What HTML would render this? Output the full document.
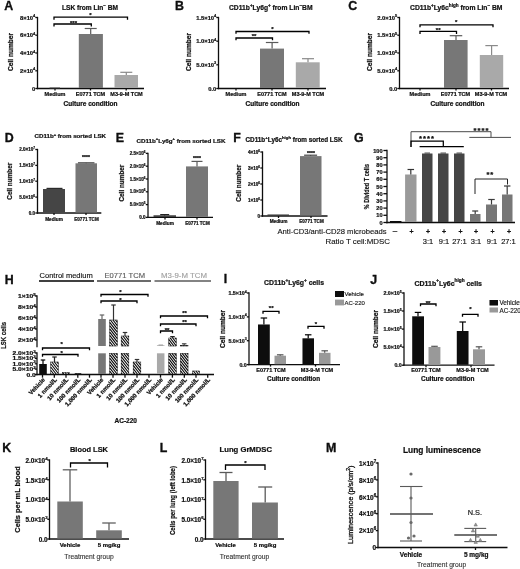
<!DOCTYPE html>
<html><head><meta charset="utf-8"><title>Figure</title>
<style>
html,body{margin:0;padding:0;background:#fff;}
body{width:520px;height:569px;overflow:hidden;font-family:'Liberation Sans', sans-serif;}
svg{display:block;font-family:'Liberation Sans', sans-serif;}

</style></head><body>
<svg width="520" height="569" viewBox="0 0 520 569">
<rect width="520" height="569" fill="#fff"/>
<g filter="url(#bl)">
<text x="4.2" y="9.6" font-size="12.4" font-weight="bold" stroke="#0a0a0a" stroke-width="0.3" fill="#0a0a0a">A</text>
<text x="62.00" y="10.07" font-size="6.58" font-weight="bold" stroke="#111" stroke-width="0.22" fill="#111" textLength="56.00" lengthAdjust="spacingAndGlyphs">LSK from Lin<tspan font-size="4.47" dy="-2.90">−</tspan><tspan dy="2.90"> BM</tspan></text>
<line x1="37.50" y1="16.85" x2="37.50" y2="89.15" stroke="#111" stroke-width="1.3" stroke-linecap="butt"/>
<line x1="35.30" y1="17.50" x2="37.50" y2="17.50" stroke="#111" stroke-width="1.3" stroke-linecap="butt"/>
<text x="35.30" y="19.59" font-size="5.8" font-weight="bold" stroke="#111" stroke-width="0.22" text-anchor="end" fill="#111">8×10<tspan font-size="3.94" dy="-2.55">4</tspan></text>
<line x1="35.30" y1="35.20" x2="37.50" y2="35.20" stroke="#111" stroke-width="1.3" stroke-linecap="butt"/>
<text x="35.30" y="37.29" font-size="5.8" font-weight="bold" stroke="#111" stroke-width="0.22" text-anchor="end" fill="#111">6×10<tspan font-size="3.94" dy="-2.55">4</tspan></text>
<line x1="35.30" y1="53.00" x2="37.50" y2="53.00" stroke="#111" stroke-width="1.3" stroke-linecap="butt"/>
<text x="35.30" y="55.09" font-size="5.8" font-weight="bold" stroke="#111" stroke-width="0.22" text-anchor="end" fill="#111">4×10<tspan font-size="3.94" dy="-2.55">4</tspan></text>
<line x1="35.30" y1="70.80" x2="37.50" y2="70.80" stroke="#111" stroke-width="1.3" stroke-linecap="butt"/>
<text x="35.30" y="72.89" font-size="5.8" font-weight="bold" stroke="#111" stroke-width="0.22" text-anchor="end" fill="#111">2×10<tspan font-size="3.94" dy="-2.55">4</tspan></text>
<line x1="35.30" y1="88.50" x2="37.50" y2="88.50" stroke="#111" stroke-width="1.3" stroke-linecap="butt"/>
<text x="35.30" y="90.59" font-size="5.8" font-weight="bold" stroke="#111" stroke-width="0.22" text-anchor="end" fill="#111">0</text>
<line x1="36.85" y1="88.50" x2="144.00" y2="88.50" stroke="#111" stroke-width="1.3" stroke-linecap="butt"/>
<line x1="55.00" y1="88.50" x2="55.00" y2="90.50" stroke="#111" stroke-width="1.3" stroke-linecap="butt"/>
<line x1="90.50" y1="88.50" x2="90.50" y2="90.50" stroke="#111" stroke-width="1.3" stroke-linecap="butt"/>
<line x1="126.20" y1="88.50" x2="126.20" y2="90.50" stroke="#111" stroke-width="1.3" stroke-linecap="butt"/>
<text transform="translate(10.50 52.00) rotate(-90)" x="0" y="2.38" font-size="6.6" font-weight="bold" stroke="#111" stroke-width="0.22" text-anchor="middle" fill="#111">Cell number</text>
<line x1="49.50" y1="87.90" x2="60.00" y2="87.90" stroke="#454545" stroke-width="0.8" stroke-linecap="butt"/>
<rect x="78.80" y="34.00" width="24.10" height="54.00" fill="#777777"/>
<line x1="90.70" y1="28.50" x2="90.70" y2="34.00" stroke="#5a5a5a" stroke-width="1.2" stroke-linecap="butt"/>
<line x1="84.70" y1="28.50" x2="96.70" y2="28.50" stroke="#5a5a5a" stroke-width="1.2" stroke-linecap="butt"/>
<rect x="114.50" y="75.00" width="23.50" height="13.00" fill="#a9a9a9"/>
<line x1="126.30" y1="72.30" x2="126.30" y2="75.00" stroke="#8a8a8a" stroke-width="1.2" stroke-linecap="butt"/>
<line x1="120.30" y1="72.30" x2="132.30" y2="72.30" stroke="#8a8a8a" stroke-width="1.2" stroke-linecap="butt"/>
<path d="M54.00 19.70V17.20H127.50V19.70" fill="none" stroke="#000" stroke-width="1.3"/>
<text x="90.50" y="16.50" font-size="6.0" font-weight="bold" stroke="#111" stroke-width="0.25" text-anchor="middle" letter-spacing="0" fill="#111">*</text>
<path d="M54.00 26.50V24.00H91.30V26.50" fill="none" stroke="#000" stroke-width="1.3"/>
<text x="73.50" y="24.70" font-size="6.0" font-weight="bold" stroke="#111" stroke-width="0.25" text-anchor="middle" letter-spacing="0" fill="#111">***</text>
<text x="55.00" y="96.18" font-size="5.5" font-weight="bold" stroke="#111" stroke-width="0.22" text-anchor="middle" fill="#111">Medium</text>
<text x="90.50" y="96.18" font-size="5.5" font-weight="bold" stroke="#111" stroke-width="0.22" text-anchor="middle" fill="#111">E0771 TCM</text>
<text x="126.50" y="96.18" font-size="5.5" font-weight="bold" stroke="#111" stroke-width="0.22" text-anchor="middle" fill="#111">M3-9-M TCM</text>
<text x="90.50" y="105.54" font-size="6.5" font-weight="bold" stroke="#111" stroke-width="0.22" text-anchor="middle" fill="#111">Culture condition</text>
<text x="175" y="9.6" font-size="12.4" font-weight="bold" stroke="#0a0a0a" stroke-width="0.3" fill="#0a0a0a">B</text>
<text x="229.00" y="10.12" font-size="6.72" font-weight="bold" stroke="#111" stroke-width="0.22" fill="#111" textLength="83.50" lengthAdjust="spacingAndGlyphs">CD11b<tspan font-size="4.57" dy="-2.96">+</tspan><tspan dy="2.96">Ly6g</tspan><tspan font-size="4.57" dy="-2.96">+</tspan><tspan dy="2.96"> from Lin</tspan><tspan font-size="4.57" dy="-2.96">−</tspan><tspan dy="2.96">BM</tspan></text>
<line x1="218.50" y1="16.85" x2="218.50" y2="89.15" stroke="#111" stroke-width="1.3" stroke-linecap="butt"/>
<line x1="216.30" y1="17.50" x2="218.50" y2="17.50" stroke="#111" stroke-width="1.3" stroke-linecap="butt"/>
<text x="216.30" y="19.59" font-size="5.8" font-weight="bold" stroke="#111" stroke-width="0.22" text-anchor="end" fill="#111">1.5×10<tspan font-size="3.94" dy="-2.55">4</tspan></text>
<line x1="216.30" y1="41.20" x2="218.50" y2="41.20" stroke="#111" stroke-width="1.3" stroke-linecap="butt"/>
<text x="216.30" y="43.29" font-size="5.8" font-weight="bold" stroke="#111" stroke-width="0.22" text-anchor="end" fill="#111">1.0×10<tspan font-size="3.94" dy="-2.55">4</tspan></text>
<line x1="216.30" y1="64.80" x2="218.50" y2="64.80" stroke="#111" stroke-width="1.3" stroke-linecap="butt"/>
<text x="216.30" y="66.89" font-size="5.8" font-weight="bold" stroke="#111" stroke-width="0.22" text-anchor="end" fill="#111">5.0×10<tspan font-size="3.94" dy="-2.55">3</tspan></text>
<line x1="216.30" y1="88.50" x2="218.50" y2="88.50" stroke="#111" stroke-width="1.3" stroke-linecap="butt"/>
<text x="216.30" y="90.59" font-size="5.8" font-weight="bold" stroke="#111" stroke-width="0.22" text-anchor="end" fill="#111">0.0</text>
<line x1="217.85" y1="88.50" x2="326.00" y2="88.50" stroke="#111" stroke-width="1.3" stroke-linecap="butt"/>
<line x1="236.00" y1="88.50" x2="236.00" y2="90.50" stroke="#111" stroke-width="1.3" stroke-linecap="butt"/>
<line x1="272.00" y1="88.50" x2="272.00" y2="90.50" stroke="#111" stroke-width="1.3" stroke-linecap="butt"/>
<line x1="308.00" y1="88.50" x2="308.00" y2="90.50" stroke="#111" stroke-width="1.3" stroke-linecap="butt"/>
<text transform="translate(188.50 52.00) rotate(-90)" x="0" y="2.38" font-size="6.6" font-weight="bold" stroke="#111" stroke-width="0.22" text-anchor="middle" fill="#111">Cell number</text>
<rect x="260.00" y="48.60" width="24.00" height="39.40" fill="#777777"/>
<line x1="272.10" y1="42.50" x2="272.10" y2="48.60" stroke="#5a5a5a" stroke-width="1.2" stroke-linecap="butt"/>
<line x1="265.85" y1="42.50" x2="278.35" y2="42.50" stroke="#5a5a5a" stroke-width="1.2" stroke-linecap="butt"/>
<rect x="295.80" y="62.30" width="23.90" height="25.70" fill="#a9a9a9"/>
<line x1="308.00" y1="58.70" x2="308.00" y2="62.30" stroke="#8a8a8a" stroke-width="1.2" stroke-linecap="butt"/>
<line x1="302.00" y1="58.70" x2="314.00" y2="58.70" stroke="#8a8a8a" stroke-width="1.2" stroke-linecap="butt"/>
<path d="M236.00 33.70V31.50H309.00V33.70" fill="none" stroke="#000" stroke-width="1.3"/>
<text x="272.50" y="30.80" font-size="6.0" font-weight="bold" stroke="#111" stroke-width="0.25" text-anchor="middle" letter-spacing="0" fill="#111">*</text>
<path d="M236.00 40.20V38.00H272.50V40.20" fill="none" stroke="#000" stroke-width="1.3"/>
<text x="254.00" y="38.10" font-size="6.0" font-weight="bold" stroke="#111" stroke-width="0.25" text-anchor="middle" letter-spacing="0" fill="#111">**</text>
<text x="236.00" y="95.78" font-size="5.5" font-weight="bold" stroke="#111" stroke-width="0.22" text-anchor="middle" fill="#111">Medium</text>
<text x="272.00" y="95.78" font-size="5.5" font-weight="bold" stroke="#111" stroke-width="0.22" text-anchor="middle" fill="#111">E0771 TCM</text>
<text x="308.00" y="95.78" font-size="5.5" font-weight="bold" stroke="#111" stroke-width="0.22" text-anchor="middle" fill="#111">M3-9-M TCM</text>
<text x="272.50" y="105.54" font-size="6.5" font-weight="bold" stroke="#111" stroke-width="0.22" text-anchor="middle" fill="#111">Culture condition</text>
<text x="348.2" y="9.6" font-size="12.4" font-weight="bold" stroke="#0a0a0a" stroke-width="0.3" fill="#0a0a0a">C</text>
<text x="410.00" y="10.13" font-size="6.75" font-weight="bold" stroke="#111" stroke-width="0.22" fill="#111" textLength="92.50" lengthAdjust="spacingAndGlyphs">CD11b<tspan font-size="4.59" dy="-2.97">+</tspan><tspan dy="2.97">Ly6c</tspan><tspan font-size="4.59" dy="-2.97">high</tspan><tspan dy="2.97"> from Lin</tspan><tspan font-size="4.59" dy="-2.97">−</tspan><tspan dy="2.97"> BM</tspan></text>
<line x1="399.50" y1="16.85" x2="399.50" y2="89.15" stroke="#111" stroke-width="1.3" stroke-linecap="butt"/>
<line x1="397.30" y1="17.50" x2="399.50" y2="17.50" stroke="#111" stroke-width="1.3" stroke-linecap="butt"/>
<text x="397.30" y="19.59" font-size="5.8" font-weight="bold" stroke="#111" stroke-width="0.22" text-anchor="end" fill="#111">2.0×10<tspan font-size="3.94" dy="-2.55">5</tspan></text>
<line x1="397.30" y1="35.20" x2="399.50" y2="35.20" stroke="#111" stroke-width="1.3" stroke-linecap="butt"/>
<text x="397.30" y="37.29" font-size="5.8" font-weight="bold" stroke="#111" stroke-width="0.22" text-anchor="end" fill="#111">1.5×10<tspan font-size="3.94" dy="-2.55">5</tspan></text>
<line x1="397.30" y1="53.00" x2="399.50" y2="53.00" stroke="#111" stroke-width="1.3" stroke-linecap="butt"/>
<text x="397.30" y="55.09" font-size="5.8" font-weight="bold" stroke="#111" stroke-width="0.22" text-anchor="end" fill="#111">1.0×10<tspan font-size="3.94" dy="-2.55">5</tspan></text>
<line x1="397.30" y1="70.80" x2="399.50" y2="70.80" stroke="#111" stroke-width="1.3" stroke-linecap="butt"/>
<text x="397.30" y="72.89" font-size="5.8" font-weight="bold" stroke="#111" stroke-width="0.22" text-anchor="end" fill="#111">5.0×10<tspan font-size="3.94" dy="-2.55">4</tspan></text>
<line x1="397.30" y1="88.50" x2="399.50" y2="88.50" stroke="#111" stroke-width="1.3" stroke-linecap="butt"/>
<text x="397.30" y="90.59" font-size="5.8" font-weight="bold" stroke="#111" stroke-width="0.22" text-anchor="end" fill="#111">0.0</text>
<line x1="398.85" y1="88.50" x2="509.00" y2="88.50" stroke="#111" stroke-width="1.3" stroke-linecap="butt"/>
<line x1="420.00" y1="88.50" x2="420.00" y2="90.50" stroke="#111" stroke-width="1.3" stroke-linecap="butt"/>
<line x1="456.00" y1="88.50" x2="456.00" y2="90.50" stroke="#111" stroke-width="1.3" stroke-linecap="butt"/>
<line x1="491.50" y1="88.50" x2="491.50" y2="90.50" stroke="#111" stroke-width="1.3" stroke-linecap="butt"/>
<text transform="translate(370.00 52.00) rotate(-90)" x="0" y="2.38" font-size="6.6" font-weight="bold" stroke="#111" stroke-width="0.22" text-anchor="middle" fill="#111">Cell number</text>
<rect x="444.00" y="40.00" width="23.60" height="48.00" fill="#777777"/>
<line x1="456.00" y1="35.70" x2="456.00" y2="40.00" stroke="#5a5a5a" stroke-width="1.2" stroke-linecap="butt"/>
<line x1="449.75" y1="35.70" x2="462.25" y2="35.70" stroke="#5a5a5a" stroke-width="1.2" stroke-linecap="butt"/>
<rect x="479.80" y="55.00" width="23.40" height="33.00" fill="#a9a9a9"/>
<line x1="491.60" y1="45.60" x2="491.60" y2="55.00" stroke="#8a8a8a" stroke-width="1.2" stroke-linecap="butt"/>
<line x1="485.35" y1="45.60" x2="497.85" y2="45.60" stroke="#8a8a8a" stroke-width="1.2" stroke-linecap="butt"/>
<path d="M420.00 27.30V24.80H493.00V27.30" fill="none" stroke="#000" stroke-width="1.3"/>
<text x="456.20" y="24.30" font-size="6.0" font-weight="bold" stroke="#111" stroke-width="0.25" text-anchor="middle" letter-spacing="0" fill="#111">*</text>
<path d="M420.00 33.90V31.40H456.50V33.90" fill="none" stroke="#000" stroke-width="1.3"/>
<text x="438.20" y="32.10" font-size="6.0" font-weight="bold" stroke="#111" stroke-width="0.25" text-anchor="middle" letter-spacing="0" fill="#111">**</text>
<text x="420.00" y="95.78" font-size="5.5" font-weight="bold" stroke="#111" stroke-width="0.22" text-anchor="middle" fill="#111">Medium</text>
<text x="455.50" y="95.78" font-size="5.5" font-weight="bold" stroke="#111" stroke-width="0.22" text-anchor="middle" fill="#111">E0771 TCM</text>
<text x="491.00" y="95.78" font-size="5.5" font-weight="bold" stroke="#111" stroke-width="0.22" text-anchor="middle" fill="#111">M3-9-M TCM</text>
<text x="457.50" y="105.54" font-size="6.5" font-weight="bold" stroke="#111" stroke-width="0.22" text-anchor="middle" fill="#111">Culture condition</text>
<text x="4.8" y="141.7" font-size="12.4" font-weight="bold" stroke="#0a0a0a" stroke-width="0.3" fill="#0a0a0a">D</text>
<text x="34.50" y="138.41" font-size="6.15" font-weight="bold" stroke="#111" stroke-width="0.22" fill="#111" textLength="71.50" lengthAdjust="spacingAndGlyphs">CD11b<tspan font-size="4.18" dy="-2.71">+</tspan><tspan dy="2.71"> from sorted LSK</tspan></text>
<line x1="37.50" y1="148.85" x2="37.50" y2="213.65" stroke="#111" stroke-width="1.3" stroke-linecap="butt"/>
<line x1="35.30" y1="149.50" x2="37.50" y2="149.50" stroke="#111" stroke-width="1.3" stroke-linecap="butt"/>
<text x="35.10" y="151.16" font-size="4.6" font-weight="bold" stroke="#111" stroke-width="0.22" text-anchor="end" fill="#111">2.0×10<tspan font-size="3.13" dy="-2.02">7</tspan></text>
<line x1="35.30" y1="165.40" x2="37.50" y2="165.40" stroke="#111" stroke-width="1.3" stroke-linecap="butt"/>
<text x="35.10" y="167.06" font-size="4.6" font-weight="bold" stroke="#111" stroke-width="0.22" text-anchor="end" fill="#111">1.5×10<tspan font-size="3.13" dy="-2.02">7</tspan></text>
<line x1="35.30" y1="181.20" x2="37.50" y2="181.20" stroke="#111" stroke-width="1.3" stroke-linecap="butt"/>
<text x="35.10" y="182.86" font-size="4.6" font-weight="bold" stroke="#111" stroke-width="0.22" text-anchor="end" fill="#111">1.0×10<tspan font-size="3.13" dy="-2.02">7</tspan></text>
<line x1="35.30" y1="197.10" x2="37.50" y2="197.10" stroke="#111" stroke-width="1.3" stroke-linecap="butt"/>
<text x="35.10" y="198.76" font-size="4.6" font-weight="bold" stroke="#111" stroke-width="0.22" text-anchor="end" fill="#111">5.0×10<tspan font-size="3.13" dy="-2.02">6</tspan></text>
<line x1="35.30" y1="213.00" x2="37.50" y2="213.00" stroke="#111" stroke-width="1.3" stroke-linecap="butt"/>
<text x="35.10" y="214.66" font-size="4.6" font-weight="bold" stroke="#111" stroke-width="0.22" text-anchor="end" fill="#111">0.0</text>
<line x1="36.85" y1="213.00" x2="101.30" y2="213.00" stroke="#111" stroke-width="1.3" stroke-linecap="butt"/>
<line x1="54.00" y1="213.00" x2="54.00" y2="215.00" stroke="#111" stroke-width="1.3" stroke-linecap="butt"/>
<line x1="86.00" y1="213.00" x2="86.00" y2="215.00" stroke="#111" stroke-width="1.3" stroke-linecap="butt"/>
<text transform="translate(10.00 181.20) rotate(-90)" x="0" y="2.30" font-size="6.4" font-weight="bold" stroke="#111" stroke-width="0.22" text-anchor="middle" fill="#111">Cell number</text>
<rect x="43.00" y="189.00" width="22.00" height="23.50" fill="#454545"/>
<line x1="54.50" y1="188.40" x2="54.50" y2="189.00" stroke="#2a2a2a" stroke-width="1.2" stroke-linecap="butt"/>
<line x1="46.50" y1="188.40" x2="62.50" y2="188.40" stroke="#2a2a2a" stroke-width="1.2" stroke-linecap="butt"/>
<rect x="75.50" y="163.30" width="21.50" height="49.20" fill="#777777"/>
<line x1="86.20" y1="162.80" x2="86.20" y2="163.30" stroke="#4a4a4a" stroke-width="1.2" stroke-linecap="butt"/>
<line x1="77.95" y1="162.80" x2="94.45" y2="162.80" stroke="#4a4a4a" stroke-width="1.2" stroke-linecap="butt"/>
<text x="86.00" y="159.25" font-size="5.0" font-weight="bold" stroke="#111" stroke-width="0.25" text-anchor="middle" letter-spacing="0" fill="#111">****</text>
<text x="54.00" y="220.99" font-size="4.7" font-weight="bold" stroke="#111" stroke-width="0.22" text-anchor="middle" fill="#111">Medium</text>
<text x="86.50" y="220.96" font-size="4.6" font-weight="bold" stroke="#111" stroke-width="0.22" text-anchor="middle" fill="#111">E0771 TCM</text>
<g transform="translate(0.5 0.4)">
<text x="115.2" y="141.3" font-size="12.4" font-weight="bold" stroke="#0a0a0a" stroke-width="0.3" fill="#0a0a0a">E</text>
<text x="136.00" y="142.24" font-size="6.22" font-weight="bold" stroke="#111" stroke-width="0.22" fill="#111" textLength="89.00" lengthAdjust="spacingAndGlyphs">CD11b<tspan font-size="4.23" dy="-2.74">+</tspan><tspan dy="2.74">Ly6g</tspan><tspan font-size="4.23" dy="-2.74">+</tspan><tspan dy="2.74"> from sorted LSK</tspan></text>
<line x1="147.50" y1="152.35" x2="147.50" y2="217.65" stroke="#111" stroke-width="1.3" stroke-linecap="butt"/>
<line x1="145.30" y1="153.00" x2="147.50" y2="153.00" stroke="#111" stroke-width="1.3" stroke-linecap="butt"/>
<text x="145.10" y="154.66" font-size="4.6" font-weight="bold" stroke="#111" stroke-width="0.22" text-anchor="end" fill="#111">2.5×10<tspan font-size="3.13" dy="-2.02">6</tspan></text>
<line x1="145.30" y1="165.80" x2="147.50" y2="165.80" stroke="#111" stroke-width="1.3" stroke-linecap="butt"/>
<text x="145.10" y="167.46" font-size="4.6" font-weight="bold" stroke="#111" stroke-width="0.22" text-anchor="end" fill="#111">2.0×10<tspan font-size="3.13" dy="-2.02">6</tspan></text>
<line x1="145.30" y1="178.60" x2="147.50" y2="178.60" stroke="#111" stroke-width="1.3" stroke-linecap="butt"/>
<text x="145.10" y="180.26" font-size="4.6" font-weight="bold" stroke="#111" stroke-width="0.22" text-anchor="end" fill="#111">1.5×10<tspan font-size="3.13" dy="-2.02">6</tspan></text>
<line x1="145.30" y1="191.40" x2="147.50" y2="191.40" stroke="#111" stroke-width="1.3" stroke-linecap="butt"/>
<text x="145.10" y="193.06" font-size="4.6" font-weight="bold" stroke="#111" stroke-width="0.22" text-anchor="end" fill="#111">1.0×10<tspan font-size="3.13" dy="-2.02">6</tspan></text>
<line x1="145.30" y1="204.20" x2="147.50" y2="204.20" stroke="#111" stroke-width="1.3" stroke-linecap="butt"/>
<text x="145.10" y="205.86" font-size="4.6" font-weight="bold" stroke="#111" stroke-width="0.22" text-anchor="end" fill="#111">5.0×10<tspan font-size="3.13" dy="-2.02">5</tspan></text>
<line x1="145.30" y1="217.00" x2="147.50" y2="217.00" stroke="#111" stroke-width="1.3" stroke-linecap="butt"/>
<text x="145.10" y="218.66" font-size="4.6" font-weight="bold" stroke="#111" stroke-width="0.22" text-anchor="end" fill="#111">0.0</text>
<line x1="146.85" y1="217.00" x2="212.50" y2="217.00" stroke="#111" stroke-width="1.3" stroke-linecap="butt"/>
<line x1="164.50" y1="217.00" x2="164.50" y2="219.00" stroke="#111" stroke-width="1.3" stroke-linecap="butt"/>
<line x1="196.50" y1="217.00" x2="196.50" y2="219.00" stroke="#111" stroke-width="1.3" stroke-linecap="butt"/>
<text transform="translate(120.70 182.70) rotate(-90)" x="0" y="2.30" font-size="6.4" font-weight="bold" stroke="#111" stroke-width="0.22" text-anchor="middle" fill="#111">Cell number</text>
<rect x="153.00" y="214.90" width="22.50" height="1.60" fill="#333"/>
<line x1="164.20" y1="214.20" x2="164.20" y2="215.00" stroke="#222" stroke-width="1.2" stroke-linecap="butt"/>
<line x1="159.70" y1="214.20" x2="168.70" y2="214.20" stroke="#222" stroke-width="1.2" stroke-linecap="butt"/>
<rect x="185.50" y="166.00" width="22.00" height="50.50" fill="#777777"/>
<line x1="196.50" y1="161.00" x2="196.50" y2="166.00" stroke="#5a5a5a" stroke-width="1.2" stroke-linecap="butt"/>
<line x1="191.00" y1="161.00" x2="202.00" y2="161.00" stroke="#5a5a5a" stroke-width="1.2" stroke-linecap="butt"/>
<text x="196.50" y="159.25" font-size="5.0" font-weight="bold" stroke="#111" stroke-width="0.25" text-anchor="middle" letter-spacing="0" fill="#111">****</text>
<text x="164.50" y="224.39" font-size="4.7" font-weight="bold" stroke="#111" stroke-width="0.22" text-anchor="middle" fill="#111">Medium</text>
<text x="197.00" y="224.36" font-size="4.6" font-weight="bold" stroke="#111" stroke-width="0.22" text-anchor="middle" fill="#111">E0771 TCM</text>
</g>
<text x="233.3" y="141.7" font-size="12.4" font-weight="bold" stroke="#0a0a0a" stroke-width="0.3" fill="#0a0a0a">F</text>
<text x="245.50" y="142.28" font-size="6.34" font-weight="bold" stroke="#111" stroke-width="0.22" fill="#111" textLength="97.00" lengthAdjust="spacingAndGlyphs">CD11b<tspan font-size="4.31" dy="-2.79">+</tspan><tspan dy="2.79">Ly6c</tspan><tspan font-size="4.31" dy="-2.79">high</tspan><tspan dy="2.79"> from sorted LSK</tspan></text>
<line x1="262.50" y1="151.35" x2="262.50" y2="216.65" stroke="#111" stroke-width="1.3" stroke-linecap="butt"/>
<line x1="260.30" y1="152.00" x2="262.50" y2="152.00" stroke="#111" stroke-width="1.3" stroke-linecap="butt"/>
<text x="260.10" y="153.66" font-size="4.6" font-weight="bold" stroke="#111" stroke-width="0.22" text-anchor="end" fill="#111">4×10<tspan font-size="3.13" dy="-2.02">6</tspan></text>
<line x1="260.30" y1="168.00" x2="262.50" y2="168.00" stroke="#111" stroke-width="1.3" stroke-linecap="butt"/>
<text x="260.10" y="169.66" font-size="4.6" font-weight="bold" stroke="#111" stroke-width="0.22" text-anchor="end" fill="#111">3×10<tspan font-size="3.13" dy="-2.02">6</tspan></text>
<line x1="260.30" y1="184.00" x2="262.50" y2="184.00" stroke="#111" stroke-width="1.3" stroke-linecap="butt"/>
<text x="260.10" y="185.66" font-size="4.6" font-weight="bold" stroke="#111" stroke-width="0.22" text-anchor="end" fill="#111">2×10<tspan font-size="3.13" dy="-2.02">6</tspan></text>
<line x1="260.30" y1="200.00" x2="262.50" y2="200.00" stroke="#111" stroke-width="1.3" stroke-linecap="butt"/>
<text x="260.10" y="201.66" font-size="4.6" font-weight="bold" stroke="#111" stroke-width="0.22" text-anchor="end" fill="#111">1×10<tspan font-size="3.13" dy="-2.02">6</tspan></text>
<line x1="260.30" y1="216.00" x2="262.50" y2="216.00" stroke="#111" stroke-width="1.3" stroke-linecap="butt"/>
<text x="260.10" y="217.66" font-size="4.6" font-weight="bold" stroke="#111" stroke-width="0.22" text-anchor="end" fill="#111">0</text>
<line x1="261.85" y1="216.00" x2="327.50" y2="216.00" stroke="#111" stroke-width="1.3" stroke-linecap="butt"/>
<line x1="278.50" y1="216.00" x2="278.50" y2="218.00" stroke="#111" stroke-width="1.3" stroke-linecap="butt"/>
<line x1="311.00" y1="216.00" x2="311.00" y2="218.00" stroke="#111" stroke-width="1.3" stroke-linecap="butt"/>
<text transform="translate(239.00 183.20) rotate(-90)" x="0" y="2.30" font-size="6.4" font-weight="bold" stroke="#111" stroke-width="0.22" text-anchor="middle" fill="#111">Cell number</text>
<rect x="267.50" y="214.50" width="21.50" height="1.00" fill="#2a2a2a"/>
<rect x="300.00" y="156.10" width="21.50" height="59.40" fill="#777777"/>
<line x1="310.60" y1="155.20" x2="310.60" y2="156.10" stroke="#444" stroke-width="1.2" stroke-linecap="butt"/>
<line x1="304.10" y1="155.20" x2="317.10" y2="155.20" stroke="#444" stroke-width="1.2" stroke-linecap="butt"/>
<text x="311.00" y="154.85" font-size="5.0" font-weight="bold" stroke="#111" stroke-width="0.25" text-anchor="middle" letter-spacing="0" fill="#111">****</text>
<text x="278.50" y="222.99" font-size="4.7" font-weight="bold" stroke="#111" stroke-width="0.22" text-anchor="middle" fill="#111">Medium</text>
<text x="311.50" y="222.96" font-size="4.6" font-weight="bold" stroke="#111" stroke-width="0.22" text-anchor="middle" fill="#111">E0771 TCM</text>
<text x="354" y="142.2" font-size="12.4" font-weight="bold" stroke="#0a0a0a" stroke-width="0.3" fill="#0a0a0a">G</text>
<line x1="387.00" y1="149.85" x2="387.00" y2="223.15" stroke="#111" stroke-width="1.3" stroke-linecap="butt"/>
<line x1="383.40" y1="222.50" x2="387.00" y2="222.50" stroke="#111" stroke-width="1.3" stroke-linecap="butt"/>
<text x="382.60" y="224.52" font-size="5.6" font-weight="bold" stroke="#111" stroke-width="0.22" text-anchor="end" fill="#111">0</text>
<line x1="383.40" y1="215.30" x2="387.00" y2="215.30" stroke="#111" stroke-width="1.3" stroke-linecap="butt"/>
<text x="382.60" y="217.32" font-size="5.6" font-weight="bold" stroke="#111" stroke-width="0.22" text-anchor="end" fill="#111">10</text>
<line x1="383.40" y1="208.10" x2="387.00" y2="208.10" stroke="#111" stroke-width="1.3" stroke-linecap="butt"/>
<text x="382.60" y="210.12" font-size="5.6" font-weight="bold" stroke="#111" stroke-width="0.22" text-anchor="end" fill="#111">20</text>
<line x1="383.40" y1="200.90" x2="387.00" y2="200.90" stroke="#111" stroke-width="1.3" stroke-linecap="butt"/>
<text x="382.60" y="202.92" font-size="5.6" font-weight="bold" stroke="#111" stroke-width="0.22" text-anchor="end" fill="#111">30</text>
<line x1="383.40" y1="193.70" x2="387.00" y2="193.70" stroke="#111" stroke-width="1.3" stroke-linecap="butt"/>
<text x="382.60" y="195.72" font-size="5.6" font-weight="bold" stroke="#111" stroke-width="0.22" text-anchor="end" fill="#111">40</text>
<line x1="383.40" y1="186.50" x2="387.00" y2="186.50" stroke="#111" stroke-width="1.3" stroke-linecap="butt"/>
<text x="382.60" y="188.52" font-size="5.6" font-weight="bold" stroke="#111" stroke-width="0.22" text-anchor="end" fill="#111">50</text>
<line x1="383.40" y1="179.30" x2="387.00" y2="179.30" stroke="#111" stroke-width="1.3" stroke-linecap="butt"/>
<text x="382.60" y="181.32" font-size="5.6" font-weight="bold" stroke="#111" stroke-width="0.22" text-anchor="end" fill="#111">60</text>
<line x1="383.40" y1="172.10" x2="387.00" y2="172.10" stroke="#111" stroke-width="1.3" stroke-linecap="butt"/>
<text x="382.60" y="174.12" font-size="5.6" font-weight="bold" stroke="#111" stroke-width="0.22" text-anchor="end" fill="#111">70</text>
<line x1="383.40" y1="164.90" x2="387.00" y2="164.90" stroke="#111" stroke-width="1.3" stroke-linecap="butt"/>
<text x="382.60" y="166.92" font-size="5.6" font-weight="bold" stroke="#111" stroke-width="0.22" text-anchor="end" fill="#111">80</text>
<line x1="383.40" y1="157.70" x2="387.00" y2="157.70" stroke="#111" stroke-width="1.3" stroke-linecap="butt"/>
<text x="382.60" y="159.72" font-size="5.6" font-weight="bold" stroke="#111" stroke-width="0.22" text-anchor="end" fill="#111">90</text>
<line x1="383.40" y1="150.50" x2="387.00" y2="150.50" stroke="#111" stroke-width="1.3" stroke-linecap="butt"/>
<text x="382.60" y="152.52" font-size="5.6" font-weight="bold" stroke="#111" stroke-width="0.22" text-anchor="end" fill="#111">100</text>
<line x1="386.35" y1="222.50" x2="515.00" y2="222.50" stroke="#111" stroke-width="1.3" stroke-linecap="butt"/>
<text transform="translate(367.00 209.30) rotate(-90)" x="0" y="2.41" font-size="6.7" font-weight="bold" stroke="#111" stroke-width="0.22" fill="#111" textLength="45.30" lengthAdjust="spacingAndGlyphs">% Divided T cells</text>
<rect x="390.00" y="221.00" width="11.50" height="1.00" fill="#0a0a0a"/>
<rect x="405.10" y="174.50" width="11.40" height="47.50" fill="#9a9a9a"/>
<line x1="410.80" y1="169.50" x2="410.80" y2="174.50" stroke="#333" stroke-width="1.2" stroke-linecap="butt"/>
<line x1="407.55" y1="169.50" x2="414.05" y2="169.50" stroke="#333" stroke-width="1.2" stroke-linecap="butt"/>
<rect x="422.00" y="153.50" width="10.50" height="68.50" fill="#454545"/>
<line x1="424.50" y1="153.00" x2="430.00" y2="153.00" stroke="#222" stroke-width="0.8" stroke-linecap="butt"/>
<rect x="438.00" y="153.50" width="10.50" height="68.50" fill="#454545"/>
<line x1="440.50" y1="153.00" x2="446.00" y2="153.00" stroke="#222" stroke-width="0.8" stroke-linecap="butt"/>
<rect x="454.00" y="153.50" width="10.50" height="68.50" fill="#454545"/>
<line x1="456.50" y1="153.00" x2="462.00" y2="153.00" stroke="#222" stroke-width="0.8" stroke-linecap="butt"/>
<rect x="470.00" y="214.00" width="10.50" height="8.00" fill="#777777"/>
<line x1="475.20" y1="211.00" x2="475.20" y2="214.00" stroke="#3a3a3a" stroke-width="1.2" stroke-linecap="butt"/>
<line x1="472.20" y1="211.00" x2="478.20" y2="211.00" stroke="#3a3a3a" stroke-width="1.2" stroke-linecap="butt"/>
<rect x="486.00" y="204.50" width="11.00" height="17.50" fill="#777777"/>
<line x1="491.50" y1="199.50" x2="491.50" y2="204.50" stroke="#3a3a3a" stroke-width="1.2" stroke-linecap="butt"/>
<line x1="488.25" y1="199.50" x2="494.75" y2="199.50" stroke="#3a3a3a" stroke-width="1.2" stroke-linecap="butt"/>
<rect x="502.00" y="194.50" width="10.50" height="27.50" fill="#777777"/>
<line x1="507.20" y1="186.00" x2="507.20" y2="194.50" stroke="#3a3a3a" stroke-width="1.2" stroke-linecap="butt"/>
<line x1="503.95" y1="186.00" x2="510.45" y2="186.00" stroke="#3a3a3a" stroke-width="1.2" stroke-linecap="butt"/>
<path d="M411 147V131.7H491V137.4M469.3 137.4H511" fill="none" stroke="#4a4a4a" stroke-width="1"/>
<path d="M411 147V141H443.3V146.5M419.6 146.5H463.8" fill="none" stroke="#000" stroke-width="1.25"/>
<text x="427.00" y="141.38" font-size="7.6" font-weight="bold" stroke="#111" stroke-width="0.25" text-anchor="middle" letter-spacing="1.0" fill="#111">****</text>
<text x="481.50" y="132.58" font-size="7.6" font-weight="bold" stroke="#111" stroke-width="0.25" text-anchor="middle" letter-spacing="1.0" fill="#111">****</text>
<path d="M475 194V179H507.5V184.5" fill="none" stroke="#222" stroke-width="1"/>
<text x="490.35" y="176.68" font-size="7.6" font-weight="bold" stroke="#111" stroke-width="0.25" text-anchor="middle" letter-spacing="0.9" fill="#111">**</text>
<text x="277.50" y="234.35" font-size="7.63" font-weight="normal" stroke="#111" stroke-width="0.12" fill="#111" textLength="109.00" lengthAdjust="spacingAndGlyphs">Anti-CD3/anti-CD28 microbeads</text>
<text x="325.50" y="243.74" font-size="7.88" font-weight="normal" stroke="#111" stroke-width="0.12" fill="#111" textLength="64.50" lengthAdjust="spacingAndGlyphs">Ratio T cell:MDSC</text>
<text x="395.00" y="233.38" font-size="8" font-weight="normal" stroke="#111" stroke-width="0.25" text-anchor="middle" fill="#111">–</text>
<text x="411.50" y="233.52" font-size="7" font-weight="normal" stroke="#111" stroke-width="0.35" text-anchor="middle" fill="#111">+</text>
<text x="428.00" y="233.52" font-size="7" font-weight="normal" stroke="#111" stroke-width="0.35" text-anchor="middle" fill="#111">+</text>
<text x="444.00" y="233.52" font-size="7" font-weight="normal" stroke="#111" stroke-width="0.35" text-anchor="middle" fill="#111">+</text>
<text x="460.50" y="233.52" font-size="7" font-weight="normal" stroke="#111" stroke-width="0.35" text-anchor="middle" fill="#111">+</text>
<text x="476.00" y="233.52" font-size="7" font-weight="normal" stroke="#111" stroke-width="0.35" text-anchor="middle" fill="#111">+</text>
<text x="492.50" y="233.52" font-size="7" font-weight="normal" stroke="#111" stroke-width="0.35" text-anchor="middle" fill="#111">+</text>
<text x="509.00" y="233.52" font-size="7" font-weight="normal" stroke="#111" stroke-width="0.35" text-anchor="middle" fill="#111">+</text>
<text x="428.00" y="243.70" font-size="7.5" font-weight="normal" stroke="#111" stroke-width="0.15" text-anchor="middle" fill="#111">3:1</text>
<text x="444.00" y="243.70" font-size="7.5" font-weight="normal" stroke="#111" stroke-width="0.15" text-anchor="middle" fill="#111">9:1</text>
<text x="459.50" y="243.70" font-size="7.5" font-weight="normal" stroke="#111" stroke-width="0.15" text-anchor="middle" fill="#111">27:1</text>
<text x="476.00" y="243.70" font-size="7.5" font-weight="normal" stroke="#111" stroke-width="0.15" text-anchor="middle" fill="#111">3:1</text>
<text x="492.00" y="243.70" font-size="7.5" font-weight="normal" stroke="#111" stroke-width="0.15" text-anchor="middle" fill="#111">9:1</text>
<text x="508.50" y="243.70" font-size="7.5" font-weight="normal" stroke="#111" stroke-width="0.15" text-anchor="middle" fill="#111">27:1</text>
<text x="4.8" y="283.8" font-size="12.4" font-weight="bold" stroke="#0a0a0a" stroke-width="0.3" fill="#0a0a0a">H</text>
<defs><pattern id="h" width="4" height="1.7" patternUnits="userSpaceOnUse" patternTransform="rotate(55)"><rect width="4" height="1.7" fill="#fff"/><rect width="4" height="1.1" fill="#0a0a0a"/></pattern></defs>
<text x="39.50" y="277.88" font-size="6.6" font-weight="normal" stroke="#111" stroke-width="0.12" fill="#111" textLength="53.20" lengthAdjust="spacingAndGlyphs">Control medium</text>
<line x1="39.00" y1="281.00" x2="94.00" y2="281.00" stroke="#000" stroke-width="1.4" stroke-linecap="butt"/>
<text x="104.50" y="277.88" font-size="6.6" font-weight="normal" stroke="#5a5a5a" stroke-width="0.12" fill="#5a5a5a" textLength="40.50" lengthAdjust="spacingAndGlyphs">E0771 TCM</text>
<line x1="97.00" y1="281.00" x2="151.00" y2="281.00" stroke="#3a3a3a" stroke-width="1.4" stroke-linecap="butt"/>
<text x="161.00" y="277.88" font-size="6.6" font-weight="normal" stroke="#a0a0a0" stroke-width="0.12" fill="#a0a0a0" textLength="46.00" lengthAdjust="spacingAndGlyphs">M3-9-M TCM</text>
<line x1="154.50" y1="281.00" x2="211.00" y2="281.00" stroke="#5a5a5a" stroke-width="1.4" stroke-linecap="butt"/>
<line x1="37.00" y1="295.35" x2="37.00" y2="347.15" stroke="#111" stroke-width="1.3" stroke-linecap="butt"/>
<line x1="34.80" y1="296.00" x2="37.00" y2="296.00" stroke="#111" stroke-width="1.3" stroke-linecap="butt"/>
<text x="35.80" y="298.02" font-size="5.6" font-weight="bold" stroke="#111" stroke-width="0.22" text-anchor="end" fill="#111" textLength="17.68" lengthAdjust="spacingAndGlyphs">1×10<tspan font-size="3.81" dy="-2.46">5</tspan></text>
<line x1="34.80" y1="307.00" x2="37.00" y2="307.00" stroke="#111" stroke-width="1.3" stroke-linecap="butt"/>
<text x="35.80" y="309.02" font-size="5.6" font-weight="bold" stroke="#111" stroke-width="0.22" text-anchor="end" fill="#111" textLength="17.68" lengthAdjust="spacingAndGlyphs">8×10<tspan font-size="3.81" dy="-2.46">4</tspan></text>
<line x1="34.80" y1="318.00" x2="37.00" y2="318.00" stroke="#111" stroke-width="1.3" stroke-linecap="butt"/>
<text x="35.80" y="320.02" font-size="5.6" font-weight="bold" stroke="#111" stroke-width="0.22" text-anchor="end" fill="#111" textLength="17.68" lengthAdjust="spacingAndGlyphs">6×10<tspan font-size="3.81" dy="-2.46">4</tspan></text>
<line x1="34.80" y1="329.00" x2="37.00" y2="329.00" stroke="#111" stroke-width="1.3" stroke-linecap="butt"/>
<text x="35.80" y="331.02" font-size="5.6" font-weight="bold" stroke="#111" stroke-width="0.22" text-anchor="end" fill="#111" textLength="17.68" lengthAdjust="spacingAndGlyphs">4×10<tspan font-size="3.81" dy="-2.46">4</tspan></text>
<line x1="34.80" y1="340.00" x2="37.00" y2="340.00" stroke="#111" stroke-width="1.3" stroke-linecap="butt"/>
<text x="35.80" y="342.02" font-size="5.6" font-weight="bold" stroke="#111" stroke-width="0.22" text-anchor="end" fill="#111" textLength="17.68" lengthAdjust="spacingAndGlyphs">2×10<tspan font-size="3.81" dy="-2.46">4</tspan></text>
<line x1="37.00" y1="352.35" x2="37.00" y2="375.15" stroke="#111" stroke-width="1.3" stroke-linecap="butt"/>
<line x1="34.80" y1="353.00" x2="37.00" y2="353.00" stroke="#111" stroke-width="1.3" stroke-linecap="butt"/>
<text x="35.80" y="355.02" font-size="5.6" font-weight="bold" stroke="#111" stroke-width="0.22" text-anchor="end" fill="#111" textLength="23.28" lengthAdjust="spacingAndGlyphs">2.0×10<tspan font-size="3.81" dy="-2.46">3</tspan></text>
<line x1="34.80" y1="358.40" x2="37.00" y2="358.40" stroke="#111" stroke-width="1.3" stroke-linecap="butt"/>
<text x="35.80" y="360.42" font-size="5.6" font-weight="bold" stroke="#111" stroke-width="0.22" text-anchor="end" fill="#111" textLength="23.28" lengthAdjust="spacingAndGlyphs">1.5×10<tspan font-size="3.81" dy="-2.46">3</tspan></text>
<line x1="34.80" y1="363.80" x2="37.00" y2="363.80" stroke="#111" stroke-width="1.3" stroke-linecap="butt"/>
<text x="35.80" y="365.82" font-size="5.6" font-weight="bold" stroke="#111" stroke-width="0.22" text-anchor="end" fill="#111" textLength="23.28" lengthAdjust="spacingAndGlyphs">1.0×10<tspan font-size="3.81" dy="-2.46">3</tspan></text>
<line x1="34.80" y1="369.10" x2="37.00" y2="369.10" stroke="#111" stroke-width="1.3" stroke-linecap="butt"/>
<text x="35.80" y="371.12" font-size="5.6" font-weight="bold" stroke="#111" stroke-width="0.22" text-anchor="end" fill="#111" textLength="23.28" lengthAdjust="spacingAndGlyphs">5.0×10<tspan font-size="3.81" dy="-2.46">2</tspan></text>
<line x1="34.80" y1="374.50" x2="37.00" y2="374.50" stroke="#111" stroke-width="1.3" stroke-linecap="butt"/>
<text x="35.80" y="376.52" font-size="5.6" font-weight="bold" stroke="#111" stroke-width="0.22" text-anchor="end" fill="#111" textLength="9.34" lengthAdjust="spacingAndGlyphs">0.0</text>
<line x1="36.35" y1="374.50" x2="214.00" y2="374.50" stroke="#111" stroke-width="1.3" stroke-linecap="butt"/>
<line x1="42.50" y1="374.50" x2="42.50" y2="377.70" stroke="#111" stroke-width="1.3" stroke-linecap="butt"/>
<line x1="54.30" y1="374.50" x2="54.30" y2="377.70" stroke="#111" stroke-width="1.3" stroke-linecap="butt"/>
<line x1="66.00" y1="374.50" x2="66.00" y2="377.70" stroke="#111" stroke-width="1.3" stroke-linecap="butt"/>
<line x1="77.80" y1="374.50" x2="77.80" y2="377.70" stroke="#111" stroke-width="1.3" stroke-linecap="butt"/>
<line x1="89.50" y1="374.50" x2="89.50" y2="377.70" stroke="#111" stroke-width="1.3" stroke-linecap="butt"/>
<line x1="101.00" y1="374.50" x2="101.00" y2="377.70" stroke="#111" stroke-width="1.3" stroke-linecap="butt"/>
<line x1="113.00" y1="374.50" x2="113.00" y2="377.70" stroke="#111" stroke-width="1.3" stroke-linecap="butt"/>
<line x1="125.00" y1="374.50" x2="125.00" y2="377.70" stroke="#111" stroke-width="1.3" stroke-linecap="butt"/>
<line x1="137.00" y1="374.50" x2="137.00" y2="377.70" stroke="#111" stroke-width="1.3" stroke-linecap="butt"/>
<line x1="149.00" y1="374.50" x2="149.00" y2="377.70" stroke="#111" stroke-width="1.3" stroke-linecap="butt"/>
<line x1="160.50" y1="374.50" x2="160.50" y2="377.70" stroke="#111" stroke-width="1.3" stroke-linecap="butt"/>
<line x1="172.40" y1="374.50" x2="172.40" y2="377.70" stroke="#111" stroke-width="1.3" stroke-linecap="butt"/>
<line x1="184.30" y1="374.50" x2="184.30" y2="377.70" stroke="#111" stroke-width="1.3" stroke-linecap="butt"/>
<line x1="196.00" y1="374.50" x2="196.00" y2="377.70" stroke="#111" stroke-width="1.3" stroke-linecap="butt"/>
<line x1="207.70" y1="374.50" x2="207.70" y2="377.70" stroke="#111" stroke-width="1.3" stroke-linecap="butt"/>
<text transform="translate(3.30 348.80) rotate(-90)" x="0" y="2.59" font-size="7.2" font-weight="bold" stroke="#111" stroke-width="0.22" fill="#111" textLength="27.00" lengthAdjust="spacingAndGlyphs">LSK cells</text>
<rect x="39.20" y="364.00" width="7.60" height="10.00" fill="#0a0a0a"/>
<line x1="43.00" y1="360.00" x2="43.00" y2="364.00" stroke="#000" stroke-width="1.2" stroke-linecap="butt"/>
<line x1="40.75" y1="360.00" x2="45.25" y2="360.00" stroke="#000" stroke-width="1.2" stroke-linecap="butt"/>
<rect x="50.70" y="362.00" width="7.60" height="12.00" fill="#fff"/>
<path d="M50.70 373.50L51.09 374.00M50.70 370.26L53.63 374.00M50.70 367.01L56.16 374.00M50.70 363.76L58.30 373.49M51.86 362.00L58.30 370.24M54.40 362.00L58.30 366.99M56.94 362.00L58.30 363.74" stroke="#0a0a0a" stroke-width="1.15" fill="none"/>
<rect x="50.70" y="362.00" width="7.60" height="12.00" fill="none" stroke="#111" stroke-width="0.5"/>
<line x1="54.50" y1="357.00" x2="54.50" y2="362.00" stroke="#222" stroke-width="1.2" stroke-linecap="butt"/>
<line x1="52.25" y1="357.00" x2="56.75" y2="357.00" stroke="#222" stroke-width="1.2" stroke-linecap="butt"/>
<rect x="62.50" y="372.50" width="7.00" height="1.50" fill="#fff"/>
<path d="M62.61 372.50L63.78 374.00M65.14 372.50L66.32 374.00M67.68 372.50L68.85 374.00" stroke="#0a0a0a" stroke-width="1.15" fill="none"/>
<rect x="62.50" y="372.50" width="7.00" height="1.50" fill="none" stroke="#111" stroke-width="0.5"/>
<rect x="75.00" y="373.60" width="6.00" height="0.40" fill="#fff"/>
<path d="M76.16 373.60L76.47 374.00M78.69 373.60L79.01 374.00" stroke="#0a0a0a" stroke-width="1.15" fill="none"/>
<rect x="75.00" y="373.60" width="6.00" height="0.40" fill="none" stroke="#111" stroke-width="0.5"/>
<rect x="98.20" y="319.00" width="7.60" height="27.00" fill="#777777"/>
<rect x="98.20" y="353.30" width="7.60" height="20.70" fill="#777777"/>
<line x1="102.00" y1="315.00" x2="102.00" y2="319.00" stroke="#666" stroke-width="1.2" stroke-linecap="butt"/>
<line x1="99.75" y1="315.00" x2="104.25" y2="315.00" stroke="#666" stroke-width="1.2" stroke-linecap="butt"/>
<rect x="109.70" y="320.00" width="7.60" height="26.00" fill="#fff"/>
<path d="M109.70 345.07L110.43 346.00M109.70 341.82L112.97 346.00M109.70 338.57L115.50 346.00M109.70 335.32L117.30 345.05M109.70 332.07L117.30 341.80M109.70 328.82L117.30 338.55M109.70 325.58L117.30 335.30M109.70 322.33L117.30 332.06M110.42 320.00L117.30 328.81M112.96 320.00L117.30 325.56M115.50 320.00L117.30 322.31" stroke="#0a0a0a" stroke-width="1.15" fill="none"/>
<rect x="109.70" y="320.00" width="7.60" height="26.00" fill="none" stroke="#111" stroke-width="0.5"/>
<rect x="109.70" y="353.30" width="7.60" height="20.70" fill="#fff"/>
<path d="M109.70 371.06L112.00 374.00M109.70 367.81L114.54 374.00M109.70 364.56L117.08 374.00M109.70 361.31L117.30 371.04M109.70 358.06L117.30 367.79M109.70 354.81L117.30 364.54M111.06 353.30L117.30 361.29M113.59 353.30L117.30 358.04M116.13 353.30L117.30 354.80" stroke="#0a0a0a" stroke-width="1.15" fill="none"/>
<rect x="109.70" y="353.30" width="7.60" height="20.70" fill="none" stroke="#111" stroke-width="0.5"/>
<line x1="113.50" y1="305.00" x2="113.50" y2="320.00" stroke="#333" stroke-width="1.2" stroke-linecap="butt"/>
<line x1="111.25" y1="305.00" x2="115.75" y2="305.00" stroke="#333" stroke-width="1.2" stroke-linecap="butt"/>
<rect x="121.20" y="336.00" width="7.60" height="10.00" fill="#fff"/>
<path d="M121.20 343.54L123.12 346.00M121.20 340.30L125.66 346.00M121.20 337.05L128.19 346.00M122.92 336.00L128.80 343.53M125.46 336.00L128.80 340.28M128.00 336.00L128.80 337.03" stroke="#0a0a0a" stroke-width="1.15" fill="none"/>
<rect x="121.20" y="336.00" width="7.60" height="10.00" fill="none" stroke="#111" stroke-width="0.5"/>
<rect x="121.20" y="353.30" width="7.60" height="20.70" fill="#fff"/>
<path d="M121.20 372.78L122.15 374.00M121.20 369.53L124.69 374.00M121.20 366.28L127.23 374.00M121.20 363.04L128.80 372.76M121.20 359.79L128.80 369.51M121.20 356.54L128.80 366.27M121.21 353.30L128.80 363.02M123.75 353.30L128.80 359.77M126.28 353.30L128.80 356.52" stroke="#0a0a0a" stroke-width="1.15" fill="none"/>
<rect x="121.20" y="353.30" width="7.60" height="20.70" fill="none" stroke="#111" stroke-width="0.5"/>
<line x1="125.00" y1="332.50" x2="125.00" y2="336.00" stroke="#333" stroke-width="1.2" stroke-linecap="butt"/>
<line x1="122.75" y1="332.50" x2="127.25" y2="332.50" stroke="#333" stroke-width="1.2" stroke-linecap="butt"/>
<rect x="133.20" y="362.00" width="7.60" height="12.00" fill="#fff"/>
<path d="M133.20 371.90L134.84 374.00M133.20 368.65L137.38 374.00M133.20 365.40L139.92 374.00M133.20 362.15L140.80 371.88M135.62 362.00L140.80 368.63M138.16 362.00L140.80 365.38M140.70 362.00L140.80 362.13" stroke="#0a0a0a" stroke-width="1.15" fill="none"/>
<rect x="133.20" y="362.00" width="7.60" height="12.00" fill="none" stroke="#111" stroke-width="0.5"/>
<line x1="137.00" y1="359.50" x2="137.00" y2="362.00" stroke="#333" stroke-width="1.2" stroke-linecap="butt"/>
<line x1="134.75" y1="359.50" x2="139.25" y2="359.50" stroke="#333" stroke-width="1.2" stroke-linecap="butt"/>
<rect x="156.95" y="345.30" width="7.50" height="0.70" fill="#a9a9a9"/>
<rect x="156.95" y="353.30" width="7.50" height="20.70" fill="#a9a9a9"/>
<line x1="158.50" y1="345.00" x2="163.00" y2="345.00" stroke="#888" stroke-width="0.8" stroke-linecap="butt"/>
<rect x="168.75" y="338.00" width="7.50" height="8.00" fill="#fff"/>
<path d="M168.75 345.93L168.80 346.00M168.75 342.68L171.34 346.00M168.75 339.43L173.88 346.00M170.17 338.00L176.25 345.79M172.71 338.00L176.25 342.54M175.24 338.00L176.25 339.29" stroke="#0a0a0a" stroke-width="1.15" fill="none"/>
<rect x="168.75" y="338.00" width="7.50" height="8.00" fill="none" stroke="#111" stroke-width="0.5"/>
<rect x="168.75" y="353.30" width="7.50" height="20.70" fill="#fff"/>
<path d="M168.75 371.92L170.38 374.00M168.75 368.67L172.91 374.00M168.75 365.42L175.45 374.00M168.75 362.17L176.25 371.77M168.75 358.93L176.25 368.53M168.75 355.68L176.25 365.28M169.43 353.30L176.25 362.03M171.97 353.30L176.25 358.78M174.51 353.30L176.25 355.53" stroke="#0a0a0a" stroke-width="1.15" fill="none"/>
<rect x="168.75" y="353.30" width="7.50" height="20.70" fill="none" stroke="#111" stroke-width="0.5"/>
<line x1="172.50" y1="336.60" x2="172.50" y2="338.00" stroke="#222" stroke-width="1.2" stroke-linecap="butt"/>
<line x1="170.25" y1="336.60" x2="174.75" y2="336.60" stroke="#222" stroke-width="1.2" stroke-linecap="butt"/>
<rect x="180.40" y="345.30" width="7.60" height="0.70" fill="#fff"/>
<path d="M180.95 345.30L181.49 346.00M183.48 345.30L184.03 346.00M186.02 345.30L186.57 346.00" stroke="#0a0a0a" stroke-width="1.15" fill="none"/>
<rect x="180.40" y="345.30" width="7.60" height="0.70" fill="none" stroke="#111" stroke-width="0.5"/>
<rect x="180.40" y="353.30" width="7.60" height="20.70" fill="#fff"/>
<path d="M180.40 373.84L180.53 374.00M180.40 370.59L183.07 374.00M180.40 367.34L185.60 374.00M180.40 364.09L188.00 373.82M180.40 360.84L188.00 370.57M180.40 357.59L188.00 367.32M180.40 354.35L188.00 364.07M182.12 353.30L188.00 360.82M184.66 353.30L188.00 357.58M187.20 353.30L188.00 354.33" stroke="#0a0a0a" stroke-width="1.15" fill="none"/>
<rect x="180.40" y="353.30" width="7.60" height="20.70" fill="none" stroke="#111" stroke-width="0.5"/>
<line x1="184.20" y1="343.80" x2="184.20" y2="345.30" stroke="#444" stroke-width="1.2" stroke-linecap="butt"/>
<line x1="181.95" y1="343.80" x2="186.45" y2="343.80" stroke="#444" stroke-width="1.2" stroke-linecap="butt"/>
<rect x="192.50" y="371.00" width="7.00" height="3.00" fill="#fff"/>
<path d="M192.50 373.08L193.22 374.00M193.41 371.00L195.76 374.00M195.95 371.00L198.29 374.00M198.49 371.00L199.50 372.30" stroke="#0a0a0a" stroke-width="1.15" fill="none"/>
<rect x="192.50" y="371.00" width="7.00" height="3.00" fill="none" stroke="#111" stroke-width="0.5"/>
<path d="M42.50 350.30V348.00H89.50V350.30" fill="none" stroke="#000" stroke-width="1.3"/>
<text x="61.60" y="345.80" font-size="6.0" font-weight="bold" stroke="#111" stroke-width="0.25" text-anchor="middle" letter-spacing="0" fill="#111">*</text>
<path d="M42.50 356.80V354.50H78.00V356.80" fill="none" stroke="#000" stroke-width="1.3"/>
<text x="61.60" y="355.00" font-size="6.0" font-weight="bold" stroke="#111" stroke-width="0.25" text-anchor="middle" letter-spacing="0" fill="#111">*</text>
<path d="M101.00 296.80V294.50H148.00V296.80" fill="none" stroke="#000" stroke-width="1.3"/>
<text x="120.50" y="294.30" font-size="6.0" font-weight="bold" stroke="#111" stroke-width="0.25" text-anchor="middle" letter-spacing="0" fill="#111">*</text>
<path d="M101.00 303.30V301.00H137.00V303.30" fill="none" stroke="#000" stroke-width="1.3"/>
<text x="120.50" y="301.80" font-size="6.0" font-weight="bold" stroke="#111" stroke-width="0.25" text-anchor="middle" letter-spacing="0" fill="#111">*</text>
<path d="M160.50 318.30V316.00H207.50V318.30" fill="none" stroke="#000" stroke-width="1.3"/>
<text x="184.50" y="314.50" font-size="6.0" font-weight="bold" stroke="#111" stroke-width="0.25" text-anchor="middle" letter-spacing="0" fill="#111">**</text>
<path d="M160.50 326.30V324.00H196.00V326.30" fill="none" stroke="#000" stroke-width="1.3"/>
<text x="184.50" y="324.10" font-size="6.0" font-weight="bold" stroke="#111" stroke-width="0.25" text-anchor="middle" letter-spacing="0" fill="#111">**</text>
<path d="M160.50 333.30V331.00H172.50V333.30" fill="none" stroke="#000" stroke-width="1.3"/>
<text x="167.00" y="332.30" font-size="6.0" font-weight="bold" stroke="#111" stroke-width="0.25" text-anchor="middle" letter-spacing="0" fill="#111">**</text>
<text transform="translate(43.90 378.80) rotate(-47)" x="0" y="2" font-size="6.0" font-weight="bold" stroke="#111" stroke-width="0.25" text-anchor="end" fill="#111">Vehicle</text>
<text transform="translate(55.70 378.80) rotate(-47)" x="0" y="2" font-size="6.0" font-weight="bold" stroke="#111" stroke-width="0.25" text-anchor="end" fill="#111">1 nmol/L</text>
<text transform="translate(67.40 378.80) rotate(-47)" x="0" y="2" font-size="6.0" font-weight="bold" stroke="#111" stroke-width="0.25" text-anchor="end" fill="#111">10 nmol/L</text>
<text transform="translate(79.20 378.80) rotate(-47)" x="0" y="2" font-size="6.0" font-weight="bold" stroke="#111" stroke-width="0.25" text-anchor="end" fill="#111">100 nmol/L</text>
<text transform="translate(90.90 378.80) rotate(-47)" x="0" y="2" font-size="6.0" font-weight="bold" stroke="#111" stroke-width="0.25" text-anchor="end" fill="#111">1,000 nmol/L</text>
<text transform="translate(102.40 378.80) rotate(-47)" x="0" y="2" font-size="6.0" font-weight="bold" stroke="#111" stroke-width="0.25" text-anchor="end" fill="#111">Vehicle</text>
<text transform="translate(114.40 378.80) rotate(-47)" x="0" y="2" font-size="6.0" font-weight="bold" stroke="#111" stroke-width="0.25" text-anchor="end" fill="#111">1 nmol/L</text>
<text transform="translate(126.40 378.80) rotate(-47)" x="0" y="2" font-size="6.0" font-weight="bold" stroke="#111" stroke-width="0.25" text-anchor="end" fill="#111">10 nmol/L</text>
<text transform="translate(138.40 378.80) rotate(-47)" x="0" y="2" font-size="6.0" font-weight="bold" stroke="#111" stroke-width="0.25" text-anchor="end" fill="#111">100 nmol/L</text>
<text transform="translate(150.40 378.80) rotate(-47)" x="0" y="2" font-size="6.0" font-weight="bold" stroke="#111" stroke-width="0.25" text-anchor="end" fill="#111">1,000 nmol/L</text>
<text transform="translate(161.90 378.80) rotate(-47)" x="0" y="2" font-size="6.0" font-weight="bold" stroke="#111" stroke-width="0.25" text-anchor="end" fill="#111">Vehicle</text>
<text transform="translate(173.80 378.80) rotate(-47)" x="0" y="2" font-size="6.0" font-weight="bold" stroke="#111" stroke-width="0.25" text-anchor="end" fill="#111">1 nmol/L</text>
<text transform="translate(185.70 378.80) rotate(-47)" x="0" y="2" font-size="6.0" font-weight="bold" stroke="#111" stroke-width="0.25" text-anchor="end" fill="#111">10 nmol/L</text>
<text transform="translate(197.40 378.80) rotate(-47)" x="0" y="2" font-size="6.0" font-weight="bold" stroke="#111" stroke-width="0.25" text-anchor="end" fill="#111">100 nmol/L</text>
<text transform="translate(209.10 378.80) rotate(-47)" x="0" y="2" font-size="6.0" font-weight="bold" stroke="#111" stroke-width="0.25" text-anchor="end" fill="#111">1,000 nmol/L</text>
<text x="114.50" y="422.85" font-size="6.53" font-weight="bold" stroke="#111" stroke-width="0.22" fill="#111" textLength="22.50" lengthAdjust="spacingAndGlyphs">AC-220</text>
<text x="223.8" y="283.4" font-size="12.4" font-weight="bold" stroke="#0a0a0a" stroke-width="0.3" fill="#0a0a0a">I</text>
<text x="264.00" y="285.48" font-size="6.89" font-weight="bold" stroke="#111" stroke-width="0.22" fill="#111" textLength="60.00" lengthAdjust="spacingAndGlyphs">CD11b<tspan font-size="4.69" dy="-3.03">+</tspan><tspan dy="3.03">Ly6g</tspan><tspan font-size="4.69" dy="-3.03">+</tspan><tspan dy="3.03"> cells</tspan></text>
<line x1="249.00" y1="292.35" x2="249.00" y2="365.25" stroke="#111" stroke-width="1.3" stroke-linecap="butt"/>
<line x1="246.80" y1="293.00" x2="249.00" y2="293.00" stroke="#111" stroke-width="1.3" stroke-linecap="butt"/>
<text x="246.80" y="294.91" font-size="5.3" font-weight="bold" stroke="#111" stroke-width="0.22" text-anchor="end" fill="#111">1.5×10<tspan font-size="3.60" dy="-2.33">4</tspan></text>
<line x1="246.80" y1="316.90" x2="249.00" y2="316.90" stroke="#111" stroke-width="1.3" stroke-linecap="butt"/>
<text x="246.80" y="318.81" font-size="5.3" font-weight="bold" stroke="#111" stroke-width="0.22" text-anchor="end" fill="#111">1.0×10<tspan font-size="3.60" dy="-2.33">4</tspan></text>
<line x1="246.80" y1="340.70" x2="249.00" y2="340.70" stroke="#111" stroke-width="1.3" stroke-linecap="butt"/>
<text x="246.80" y="342.61" font-size="5.3" font-weight="bold" stroke="#111" stroke-width="0.22" text-anchor="end" fill="#111">5.0×10<tspan font-size="3.60" dy="-2.33">3</tspan></text>
<line x1="246.80" y1="364.60" x2="249.00" y2="364.60" stroke="#111" stroke-width="1.3" stroke-linecap="butt"/>
<text x="246.80" y="366.51" font-size="5.3" font-weight="bold" stroke="#111" stroke-width="0.22" text-anchor="end" fill="#111">0.0</text>
<line x1="248.35" y1="364.60" x2="340.00" y2="364.60" stroke="#111" stroke-width="1.3" stroke-linecap="butt"/>
<line x1="270.50" y1="364.60" x2="270.50" y2="366.60" stroke="#111" stroke-width="1.3" stroke-linecap="butt"/>
<line x1="315.50" y1="364.60" x2="315.50" y2="366.60" stroke="#111" stroke-width="1.3" stroke-linecap="butt"/>
<text transform="translate(223.00 329.00) rotate(-90)" x="0" y="2.38" font-size="6.6" font-weight="bold" stroke="#111" stroke-width="0.22" text-anchor="middle" fill="#111">Cell number</text>
<rect x="258.00" y="324.50" width="11.80" height="39.70" fill="#0a0a0a"/>
<line x1="263.90" y1="318.00" x2="263.90" y2="324.50" stroke="#000" stroke-width="1.2" stroke-linecap="butt"/>
<line x1="260.65" y1="318.00" x2="267.15" y2="318.00" stroke="#000" stroke-width="1.2" stroke-linecap="butt"/>
<rect x="274.50" y="355.70" width="11.50" height="8.50" fill="#999"/>
<line x1="280.20" y1="354.80" x2="280.20" y2="355.70" stroke="#555" stroke-width="1.2" stroke-linecap="butt"/>
<line x1="276.95" y1="354.80" x2="283.45" y2="354.80" stroke="#555" stroke-width="1.2" stroke-linecap="butt"/>
<rect x="302.50" y="338.30" width="11.50" height="25.90" fill="#0a0a0a"/>
<line x1="308.20" y1="334.80" x2="308.20" y2="338.30" stroke="#000" stroke-width="1.2" stroke-linecap="butt"/>
<line x1="304.95" y1="334.80" x2="311.45" y2="334.80" stroke="#000" stroke-width="1.2" stroke-linecap="butt"/>
<rect x="319.00" y="352.80" width="11.50" height="11.40" fill="#999"/>
<line x1="324.70" y1="350.80" x2="324.70" y2="352.80" stroke="#555" stroke-width="1.2" stroke-linecap="butt"/>
<line x1="321.45" y1="350.80" x2="327.95" y2="350.80" stroke="#555" stroke-width="1.2" stroke-linecap="butt"/>
<path d="M263.00 313.70V311.40H279.00V313.70" fill="none" stroke="#000" stroke-width="1.3"/>
<text x="271.20" y="310.30" font-size="6.0" font-weight="bold" stroke="#111" stroke-width="0.25" text-anchor="middle" letter-spacing="0" fill="#111">**</text>
<path d="M308.00 328.70V326.40H324.00V328.70" fill="none" stroke="#000" stroke-width="1.3"/>
<text x="316.00" y="325.90" font-size="6.0" font-weight="bold" stroke="#111" stroke-width="0.25" text-anchor="middle" letter-spacing="0" fill="#111">*</text>
<text x="271.00" y="371.58" font-size="5.5" font-weight="bold" stroke="#111" stroke-width="0.22" text-anchor="middle" fill="#111">E0771 TCM</text>
<text x="317.00" y="371.58" font-size="5.5" font-weight="bold" stroke="#111" stroke-width="0.22" text-anchor="middle" fill="#111">M3-9-M TCM</text>
<text x="267.00" y="381.31" font-size="6.43" font-weight="bold" stroke="#111" stroke-width="0.22" fill="#111" textLength="53.20" lengthAdjust="spacingAndGlyphs">Culture condition</text>
<rect x="335.00" y="291.00" width="9.00" height="6.00" fill="#0a0a0a"/>
<text x="344.50" y="296.36" font-size="6" font-weight="normal" stroke="#111" stroke-width="0.15" text-anchor="start" fill="#111">Vehicle</text>
<rect x="335.00" y="299.60" width="9.00" height="5.80" fill="#999"/>
<text x="344.50" y="304.76" font-size="6" font-weight="normal" stroke="#222" stroke-width="0.15" text-anchor="start" fill="#222">AC-220</text>
<text x="370.3" y="283.7" font-size="12.4" font-weight="bold" stroke="#0a0a0a" stroke-width="0.3" fill="#0a0a0a">J</text>
<text x="414.50" y="285.51" font-size="6.97" font-weight="bold" stroke="#111" stroke-width="0.22" fill="#111" textLength="67.50" lengthAdjust="spacingAndGlyphs">CD11b<tspan font-size="4.74" dy="-3.07">+</tspan><tspan dy="3.07">Ly6c</tspan><tspan font-size="4.74" dy="-3.07">high</tspan><tspan dy="3.07"> cells</tspan></text>
<line x1="404.00" y1="292.35" x2="404.00" y2="365.85" stroke="#111" stroke-width="1.3" stroke-linecap="butt"/>
<line x1="401.80" y1="293.00" x2="404.00" y2="293.00" stroke="#111" stroke-width="1.3" stroke-linecap="butt"/>
<text x="401.80" y="294.91" font-size="5.3" font-weight="bold" stroke="#111" stroke-width="0.22" text-anchor="end" fill="#111">2.0×10<tspan font-size="3.60" dy="-2.33">5</tspan></text>
<line x1="401.80" y1="311.00" x2="404.00" y2="311.00" stroke="#111" stroke-width="1.3" stroke-linecap="butt"/>
<text x="401.80" y="312.91" font-size="5.3" font-weight="bold" stroke="#111" stroke-width="0.22" text-anchor="end" fill="#111">1.5×10<tspan font-size="3.60" dy="-2.33">5</tspan></text>
<line x1="401.80" y1="329.10" x2="404.00" y2="329.10" stroke="#111" stroke-width="1.3" stroke-linecap="butt"/>
<text x="401.80" y="331.01" font-size="5.3" font-weight="bold" stroke="#111" stroke-width="0.22" text-anchor="end" fill="#111">1.0×10<tspan font-size="3.60" dy="-2.33">5</tspan></text>
<line x1="401.80" y1="347.10" x2="404.00" y2="347.10" stroke="#111" stroke-width="1.3" stroke-linecap="butt"/>
<text x="401.80" y="349.01" font-size="5.3" font-weight="bold" stroke="#111" stroke-width="0.22" text-anchor="end" fill="#111">5.0×10<tspan font-size="3.60" dy="-2.33">4</tspan></text>
<line x1="401.80" y1="365.20" x2="404.00" y2="365.20" stroke="#111" stroke-width="1.3" stroke-linecap="butt"/>
<text x="401.80" y="367.11" font-size="5.3" font-weight="bold" stroke="#111" stroke-width="0.22" text-anchor="end" fill="#111">0.0</text>
<line x1="403.35" y1="365.20" x2="494.50" y2="365.20" stroke="#111" stroke-width="1.3" stroke-linecap="butt"/>
<line x1="426.00" y1="365.20" x2="426.00" y2="367.20" stroke="#111" stroke-width="1.3" stroke-linecap="butt"/>
<line x1="471.00" y1="365.20" x2="471.00" y2="367.20" stroke="#111" stroke-width="1.3" stroke-linecap="butt"/>
<text transform="translate(375.50 329.00) rotate(-90)" x="0" y="2.38" font-size="6.6" font-weight="bold" stroke="#111" stroke-width="0.22" text-anchor="middle" fill="#111">Cell number</text>
<rect x="412.20" y="316.30" width="11.80" height="48.50" fill="#0a0a0a"/>
<line x1="418.00" y1="312.40" x2="418.00" y2="316.30" stroke="#000" stroke-width="1.2" stroke-linecap="butt"/>
<line x1="414.75" y1="312.40" x2="421.25" y2="312.40" stroke="#000" stroke-width="1.2" stroke-linecap="butt"/>
<rect x="428.50" y="347.00" width="11.90" height="17.80" fill="#999"/>
<line x1="434.50" y1="346.30" x2="434.50" y2="347.00" stroke="#555" stroke-width="1.2" stroke-linecap="butt"/>
<line x1="431.25" y1="346.30" x2="437.75" y2="346.30" stroke="#555" stroke-width="1.2" stroke-linecap="butt"/>
<rect x="456.80" y="331.00" width="11.70" height="33.80" fill="#0a0a0a"/>
<line x1="462.70" y1="322.00" x2="462.70" y2="331.00" stroke="#000" stroke-width="1.2" stroke-linecap="butt"/>
<line x1="459.45" y1="322.00" x2="465.95" y2="322.00" stroke="#000" stroke-width="1.2" stroke-linecap="butt"/>
<rect x="473.00" y="349.30" width="12.00" height="15.50" fill="#999"/>
<line x1="479.00" y1="346.80" x2="479.00" y2="349.30" stroke="#555" stroke-width="1.2" stroke-linecap="butt"/>
<line x1="475.75" y1="346.80" x2="482.25" y2="346.80" stroke="#555" stroke-width="1.2" stroke-linecap="butt"/>
<path d="M420.50 306.30V304.00H436.00V306.30" fill="none" stroke="#000" stroke-width="1.3"/>
<text x="428.00" y="304.60" font-size="6.0" font-weight="bold" stroke="#111" stroke-width="0.25" text-anchor="middle" letter-spacing="0" fill="#111">**</text>
<path d="M462.50 316.70V314.40H478.00V316.70" fill="none" stroke="#000" stroke-width="1.3"/>
<text x="470.50" y="310.90" font-size="6.0" font-weight="bold" stroke="#111" stroke-width="0.25" text-anchor="middle" letter-spacing="0" fill="#111">*</text>
<text x="426.00" y="371.58" font-size="5.5" font-weight="bold" stroke="#111" stroke-width="0.22" text-anchor="middle" fill="#111">E0771 TCM</text>
<text x="472.50" y="371.58" font-size="5.5" font-weight="bold" stroke="#111" stroke-width="0.22" text-anchor="middle" fill="#111">M3-9-M TCM</text>
<text x="421.00" y="381.23" font-size="6.46" font-weight="bold" stroke="#111" stroke-width="0.22" fill="#111" textLength="53.50" lengthAdjust="spacingAndGlyphs">Culture condition</text>
<rect x="489.50" y="300.00" width="8.50" height="5.50" fill="#0a0a0a"/>
<text x="499.50" y="305.07" font-size="6.3" font-weight="normal" stroke="#111" stroke-width="0.15" text-anchor="start" fill="#111">Vehicle</text>
<rect x="489.50" y="307.50" width="8.50" height="5.00" fill="#999"/>
<text x="499.50" y="312.57" font-size="6.3" font-weight="normal" stroke="#222" stroke-width="0.15" text-anchor="start" fill="#222">AC-220</text>
<text x="2.3" y="451.9" font-size="12.4" font-weight="bold" stroke="#0a0a0a" stroke-width="0.3" fill="#0a0a0a">K</text>
<text x="70.00" y="452.38" font-size="7.44" font-weight="bold" stroke="#111" stroke-width="0.22" fill="#111" textLength="38.00" lengthAdjust="spacingAndGlyphs">Blood LSK</text>
<line x1="49.50" y1="459.35" x2="49.50" y2="539.65" stroke="#111" stroke-width="1.3" stroke-linecap="butt"/>
<line x1="47.30" y1="460.00" x2="49.50" y2="460.00" stroke="#111" stroke-width="1.3" stroke-linecap="butt"/>
<text x="47.60" y="462.90" font-size="6.4" font-weight="bold" stroke="#111" stroke-width="0.22" text-anchor="end" fill="#111">2.0×10<tspan font-size="4.35" dy="-2.82">4</tspan></text>
<line x1="47.30" y1="479.80" x2="49.50" y2="479.80" stroke="#111" stroke-width="1.3" stroke-linecap="butt"/>
<text x="47.60" y="482.70" font-size="6.4" font-weight="bold" stroke="#111" stroke-width="0.22" text-anchor="end" fill="#111">1.5×10<tspan font-size="4.35" dy="-2.82">4</tspan></text>
<line x1="47.30" y1="499.50" x2="49.50" y2="499.50" stroke="#111" stroke-width="1.3" stroke-linecap="butt"/>
<text x="47.60" y="502.40" font-size="6.4" font-weight="bold" stroke="#111" stroke-width="0.22" text-anchor="end" fill="#111">1.0×10<tspan font-size="4.35" dy="-2.82">4</tspan></text>
<line x1="47.30" y1="519.30" x2="49.50" y2="519.30" stroke="#111" stroke-width="1.3" stroke-linecap="butt"/>
<text x="47.60" y="522.20" font-size="6.4" font-weight="bold" stroke="#111" stroke-width="0.22" text-anchor="end" fill="#111">5.0×10<tspan font-size="4.35" dy="-2.82">3</tspan></text>
<line x1="47.30" y1="539.00" x2="49.50" y2="539.00" stroke="#111" stroke-width="1.3" stroke-linecap="butt"/>
<text x="47.60" y="541.90" font-size="6.4" font-weight="bold" stroke="#111" stroke-width="0.22" text-anchor="end" fill="#111">0.0</text>
<line x1="48.85" y1="539.00" x2="129.00" y2="539.00" stroke="#111" stroke-width="1.3" stroke-linecap="butt"/>
<text transform="translate(17.00 499.50) rotate(-90)" x="0" y="2.66" font-size="7.4" font-weight="bold" stroke="#111" stroke-width="0.22" text-anchor="middle" fill="#111">Cells per mL blood</text>
<rect x="57.30" y="501.50" width="25.50" height="37.00" fill="#777777"/>
<line x1="70.00" y1="469.80" x2="70.00" y2="501.50" stroke="#606060" stroke-width="1.3" stroke-linecap="butt"/>
<line x1="62.75" y1="469.80" x2="77.25" y2="469.80" stroke="#606060" stroke-width="1.3" stroke-linecap="butt"/>
<rect x="96.20" y="530.30" width="25.60" height="8.20" fill="#777777"/>
<line x1="109.00" y1="523.00" x2="109.00" y2="530.30" stroke="#606060" stroke-width="1.3" stroke-linecap="butt"/>
<line x1="102.25" y1="523.00" x2="115.75" y2="523.00" stroke="#606060" stroke-width="1.3" stroke-linecap="butt"/>
<path d="M70.50 467.60V463.00H107.50V467.60" fill="none" stroke="#000" stroke-width="1.3"/>
<text x="89.70" y="462.50" font-size="6.0" font-weight="bold" stroke="#111" stroke-width="0.25" text-anchor="middle" letter-spacing="0" fill="#111">*</text>
<text x="70.00" y="547.36" font-size="6" font-weight="bold" stroke="#111" stroke-width="0.22" text-anchor="middle" fill="#111">Vehicle</text>
<text x="109.00" y="547.36" font-size="6" font-weight="bold" stroke="#111" stroke-width="0.22" text-anchor="middle" fill="#111">5 mg/kg</text>
<text x="64.30" y="558.92" font-size="6.73" font-weight="normal" stroke="#333" stroke-width="0.12" fill="#333" textLength="49.50" lengthAdjust="spacingAndGlyphs">Treatment group</text>
<text x="159.8" y="451.9" font-size="12.4" font-weight="bold" stroke="#0a0a0a" stroke-width="0.3" fill="#0a0a0a">L</text>
<text x="219.50" y="452.46" font-size="7.68" font-weight="bold" stroke="#111" stroke-width="0.22" fill="#111" textLength="52.50" lengthAdjust="spacingAndGlyphs">Lung GrMDSC</text>
<line x1="205.50" y1="459.35" x2="205.50" y2="539.65" stroke="#111" stroke-width="1.3" stroke-linecap="butt"/>
<line x1="203.30" y1="460.00" x2="205.50" y2="460.00" stroke="#111" stroke-width="1.3" stroke-linecap="butt"/>
<text x="203.60" y="462.90" font-size="6.4" font-weight="bold" stroke="#111" stroke-width="0.22" text-anchor="end" fill="#111">2.0×10<tspan font-size="4.35" dy="-2.82">7</tspan></text>
<line x1="203.30" y1="479.80" x2="205.50" y2="479.80" stroke="#111" stroke-width="1.3" stroke-linecap="butt"/>
<text x="203.60" y="482.70" font-size="6.4" font-weight="bold" stroke="#111" stroke-width="0.22" text-anchor="end" fill="#111">1.5×10<tspan font-size="4.35" dy="-2.82">7</tspan></text>
<line x1="203.30" y1="499.50" x2="205.50" y2="499.50" stroke="#111" stroke-width="1.3" stroke-linecap="butt"/>
<text x="203.60" y="502.40" font-size="6.4" font-weight="bold" stroke="#111" stroke-width="0.22" text-anchor="end" fill="#111">1.0×10<tspan font-size="4.35" dy="-2.82">7</tspan></text>
<line x1="203.30" y1="519.30" x2="205.50" y2="519.30" stroke="#111" stroke-width="1.3" stroke-linecap="butt"/>
<text x="203.60" y="522.20" font-size="6.4" font-weight="bold" stroke="#111" stroke-width="0.22" text-anchor="end" fill="#111">5.0×10<tspan font-size="4.35" dy="-2.82">6</tspan></text>
<line x1="203.30" y1="539.00" x2="205.50" y2="539.00" stroke="#111" stroke-width="1.3" stroke-linecap="butt"/>
<text x="203.60" y="541.90" font-size="6.4" font-weight="bold" stroke="#111" stroke-width="0.22" text-anchor="end" fill="#111">0.0</text>
<line x1="204.85" y1="539.00" x2="284.00" y2="539.00" stroke="#111" stroke-width="1.3" stroke-linecap="butt"/>
<text transform="translate(172.50 535.00) rotate(-90)" x="0" y="2.52" font-size="7" font-weight="bold" stroke="#111" stroke-width="0.22" fill="#111" textLength="69.00" lengthAdjust="spacingAndGlyphs">Cells per lung (left lobe)</text>
<rect x="213.30" y="481.00" width="25.30" height="57.50" fill="#777777"/>
<line x1="226.00" y1="472.50" x2="226.00" y2="481.00" stroke="#5a5a5a" stroke-width="1.3" stroke-linecap="butt"/>
<line x1="219.50" y1="472.50" x2="232.50" y2="472.50" stroke="#5a5a5a" stroke-width="1.3" stroke-linecap="butt"/>
<rect x="252.00" y="502.50" width="25.90" height="36.00" fill="#777777"/>
<line x1="265.20" y1="487.00" x2="265.20" y2="502.50" stroke="#5a5a5a" stroke-width="1.3" stroke-linecap="butt"/>
<line x1="258.20" y1="487.00" x2="272.20" y2="487.00" stroke="#5a5a5a" stroke-width="1.3" stroke-linecap="butt"/>
<path d="M225.50 470.00V465.00H265.00V470.00" fill="none" stroke="#000" stroke-width="1.3"/>
<text x="245.50" y="465.10" font-size="6.0" font-weight="bold" stroke="#111" stroke-width="0.25" text-anchor="middle" letter-spacing="0" fill="#111">*</text>
<text x="225.50" y="547.36" font-size="6" font-weight="bold" stroke="#111" stroke-width="0.22" text-anchor="middle" fill="#111">Vehicle</text>
<text x="265.00" y="547.36" font-size="6" font-weight="bold" stroke="#111" stroke-width="0.22" text-anchor="middle" fill="#111">5 mg/kg</text>
<text x="219.70" y="558.92" font-size="6.73" font-weight="normal" stroke="#333" stroke-width="0.12" fill="#333" textLength="49.50" lengthAdjust="spacingAndGlyphs">Treatment group</text>
<text x="326" y="451.9" font-size="12.4" font-weight="bold" stroke="#0a0a0a" stroke-width="0.3" fill="#0a0a0a">M</text>
<text x="403.00" y="453.01" font-size="8.36" font-weight="bold" stroke="#111" stroke-width="0.22" fill="#111" textLength="78.00" lengthAdjust="spacingAndGlyphs">Lung luminescence</text>
<line x1="378.00" y1="462.35" x2="378.00" y2="548.15" stroke="#111" stroke-width="1.3" stroke-linecap="butt"/>
<line x1="375.80" y1="463.00" x2="378.00" y2="463.00" stroke="#111" stroke-width="1.3" stroke-linecap="butt"/>
<text x="376.10" y="465.74" font-size="6.5" font-weight="bold" stroke="#111" stroke-width="0.22" text-anchor="end" fill="#111">1×10<tspan font-size="4.42" dy="-2.86">7</tspan></text>
<line x1="375.80" y1="479.90" x2="378.00" y2="479.90" stroke="#111" stroke-width="1.3" stroke-linecap="butt"/>
<text x="376.10" y="482.64" font-size="6.5" font-weight="bold" stroke="#111" stroke-width="0.22" text-anchor="end" fill="#111">8×10<tspan font-size="4.42" dy="-2.86">6</tspan></text>
<line x1="375.80" y1="496.80" x2="378.00" y2="496.80" stroke="#111" stroke-width="1.3" stroke-linecap="butt"/>
<text x="376.10" y="499.54" font-size="6.5" font-weight="bold" stroke="#111" stroke-width="0.22" text-anchor="end" fill="#111">6×10<tspan font-size="4.42" dy="-2.86">6</tspan></text>
<line x1="375.80" y1="513.70" x2="378.00" y2="513.70" stroke="#111" stroke-width="1.3" stroke-linecap="butt"/>
<text x="376.10" y="516.44" font-size="6.5" font-weight="bold" stroke="#111" stroke-width="0.22" text-anchor="end" fill="#111">4×10<tspan font-size="4.42" dy="-2.86">6</tspan></text>
<line x1="375.80" y1="530.60" x2="378.00" y2="530.60" stroke="#111" stroke-width="1.3" stroke-linecap="butt"/>
<text x="376.10" y="533.34" font-size="6.5" font-weight="bold" stroke="#111" stroke-width="0.22" text-anchor="end" fill="#111">2×10<tspan font-size="4.42" dy="-2.86">6</tspan></text>
<line x1="375.80" y1="547.50" x2="378.00" y2="547.50" stroke="#111" stroke-width="1.3" stroke-linecap="butt"/>
<text x="376.10" y="550.24" font-size="6.5" font-weight="bold" stroke="#111" stroke-width="0.22" text-anchor="end" fill="#111">0</text>
<line x1="377.35" y1="547.50" x2="507.50" y2="547.50" stroke="#111" stroke-width="1.3" stroke-linecap="butt"/>
<line x1="411.00" y1="547.50" x2="411.00" y2="550.00" stroke="#111" stroke-width="1.3" stroke-linecap="butt"/>
<line x1="475.50" y1="547.50" x2="475.50" y2="550.00" stroke="#111" stroke-width="1.3" stroke-linecap="butt"/>
<text transform="translate(350.30 544.00) rotate(-90)" x="0" y="2.64" font-size="7.33" font-weight="normal" stroke="#111" stroke-width="0.3" fill="#111" textLength="78.50" lengthAdjust="spacingAndGlyphs">Luminescence (p/s/cm<tspan font-size="4.98" dy="-3.23">2</tspan><tspan dy="3.23">)</tspan></text>
<line x1="390.00" y1="514.00" x2="433.00" y2="514.00" stroke="#444" stroke-width="1.4" stroke-linecap="butt"/>
<line x1="411.00" y1="486.50" x2="411.00" y2="541.00" stroke="#5a5a5a" stroke-width="1.1" stroke-linecap="butt"/>
<line x1="400.00" y1="486.50" x2="422.50" y2="486.50" stroke="#5a5a5a" stroke-width="1.1" stroke-linecap="butt"/>
<line x1="400.00" y1="541.00" x2="422.00" y2="541.00" stroke="#5a5a5a" stroke-width="1.1" stroke-linecap="butt"/>
<circle cx="411" cy="474" r="1.6" fill="#6a6a6a"/>
<circle cx="411" cy="498" r="1.6" fill="#6a6a6a"/>
<circle cx="411" cy="522.5" r="1.6" fill="#6a6a6a"/>
<circle cx="414" cy="536" r="1.6" fill="#6a6a6a"/>
<circle cx="408.5" cy="538" r="1.6" fill="#6a6a6a"/>
<line x1="454.30" y1="535.00" x2="497.00" y2="535.00" stroke="#444" stroke-width="1.4" stroke-linecap="butt"/>
<line x1="475.70" y1="528.40" x2="475.70" y2="541.60" stroke="#5a5a5a" stroke-width="1.1" stroke-linecap="butt"/>
<line x1="464.30" y1="528.40" x2="486.20" y2="528.40" stroke="#5a5a5a" stroke-width="1.1" stroke-linecap="butt"/>
<line x1="464.30" y1="541.60" x2="486.20" y2="541.60" stroke="#5a5a5a" stroke-width="1.1" stroke-linecap="butt"/>
<path d="M474.0 526.0L475.7 522.9L477.4 526.0Z" fill="#999" stroke="#6a6a6a" stroke-width="0.5"/>
<path d="M471.3 531.9L473 528.8L474.7 531.9Z" fill="#999" stroke="#6a6a6a" stroke-width="0.5"/>
<path d="M476.0 537.1999999999999L477.7 534.0999999999999L479.4 537.1999999999999Z" fill="#999" stroke="#6a6a6a" stroke-width="0.5"/>
<path d="M468.8 541.4L470.5 538.3L472.2 541.4Z" fill="#999" stroke="#6a6a6a" stroke-width="0.5"/>
<path d="M478.6 541.4L480.3 538.3L482.0 541.4Z" fill="#999" stroke="#6a6a6a" stroke-width="0.5"/>
<path d="M474.0 543.4L475.7 540.3L477.4 543.4Z" fill="#999" stroke="#6a6a6a" stroke-width="0.5"/>
<text x="467.70" y="515.25" font-size="7.35" font-weight="normal" stroke="#1a1a1a" stroke-width="0.2" fill="#1a1a1a" textLength="14.30" lengthAdjust="spacingAndGlyphs">N.S.</text>
<text x="411.00" y="557.14" font-size="6.5" font-weight="bold" stroke="#111" stroke-width="0.22" text-anchor="middle" fill="#111">Vehicle</text>
<text x="476.20" y="557.14" font-size="6.5" font-weight="bold" stroke="#111" stroke-width="0.22" text-anchor="middle" fill="#111">5 mg/kg</text>
<text x="417.00" y="567.41" font-size="6.7" font-weight="normal" stroke="#333" stroke-width="0.12" fill="#333" textLength="49.30" lengthAdjust="spacingAndGlyphs">Treatment group</text>
</g>
<defs><filter id="bl" x="0" y="0" width="100%" height="100%"><feGaussianBlur stdDeviation="0.4"/></filter></defs>
</svg>
</body></html>
